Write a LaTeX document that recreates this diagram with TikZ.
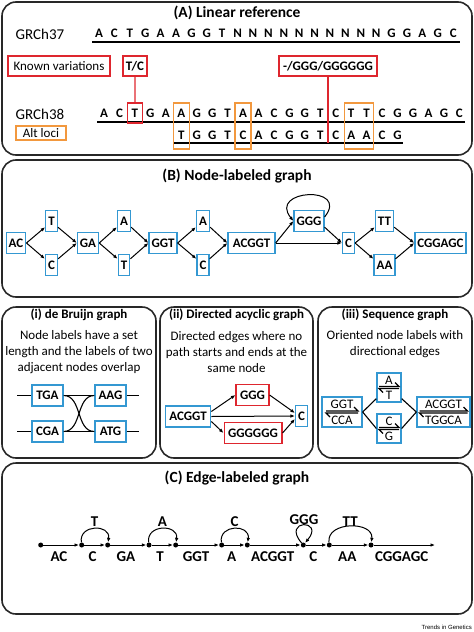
\documentclass[tikz,border=0pt]{standalone}
\usepackage{fontspec}
\setmainfont{Carlito}
\newfontfamily\creditfont{Liberation Sans}
\usetikzlibrary{arrows.meta}

\definecolor{nodeblue}{RGB}{52,152,210}
\definecolor{varred}{RGB}{222,38,46}
\definecolor{altorange}{RGB}{242,152,62}
\definecolor{framegray}{RGB}{40,40,40}

\newcommand{\titlesize}{\fontsize{15.5}{18}\selectfont\bfseries}
\newcommand{\subsize}{\fontsize{13}{16}\selectfont\bfseries}
\newcommand{\bodysize}{\fontsize{13}{16}\selectfont}
\newcommand{\edgesize}{\fontsize{15}{18}\selectfont\bfseries}

% two opposite half arrows through an oriented node
\newcommand{\harpoons}[2]{%
  \draw[harp] ([shift={(-#2,1)}]#1.center) -- ([shift={(#2,1)}]#1.center) -- ++(-4,4);
  \draw[harp] ([shift={(#2,-1)}]#1.center) -- ([shift={(-#2,-1)}]#1.center) -- ++(4,-4);
}

\begin{document}
\begin{tikzpicture}[x=1pt, y=1pt,
    panel/.style={draw=framegray, line width=1.6pt, rounded corners=14pt},
    seq/.style={inner sep=0pt, font=\subsize},
    bnode/.style={draw=nodeblue, line width=1.3pt, inner xsep=2.5pt, inner ysep=0pt, minimum height=21pt, font=\subsize},
    rnode/.style={bnode, draw=varred},
    varbox/.style={draw=varred, line width=1.3pt, inner sep=0pt, minimum height=20pt},
    altbox/.style={draw=altorange, line width=1.3pt, inner sep=0pt},
    obox/.style={draw=nodeblue, line width=1.3pt, inner sep=0pt},
    otext/.style={inner sep=0pt, font=\bodysize},
    arr/.style={-{Latex[length=4.5pt,width=3.6pt]}, line width=1pt},
    harp/.style={line width=1.1pt},
    dot/.style={circle, fill, inner sep=0pt, minimum size=5pt},
  ]
\useasboundingbox (0,0) rectangle (474,-632);

% Panel A: linear reference
\draw[panel] (2,-2) rectangle (472,-155);
\node[font=\titlesize] (titleA) at (237,-13) {(A) Linear reference};
\node[font=\fontsize{15}{18}\selectfont] (grch37) at (40,-34) {GRCh37};
\node[font=\fontsize{15}{18}\selectfont] (grch38) at (40,-114) {GRCh38};
\foreach \b [count=\i from 0] in {A,C,T,G,A,A,G,G,T,N,N,N,N,N,N,N,N,N,N,G,G,A,G,C}
  \node[seq] (a\i) at (99+15.4*\i,-33) {\b};
\foreach \b [count=\i from 0] in {A,C,T,G,A,A,G,G,T,A,A,C,G,G,T,C,T,T,C,G,G,A,G,C}
  \node[seq] (r\i) at (104+15.45*\i,-113) {\b};
\foreach \b [count=\i from 5] in {T,G,G,T,C,A,C,G,G,T,C,A,A,C,G}
  \node[seq] (q\i) at (104+15.45*\i,-135) {\b};
\draw[line width=1.1pt] (92,-42) -- (460,-42);
\draw[line width=1.1pt] (97,-122) -- (465,-122);
\draw[line width=1.1pt] (173,-143) -- (403,-143);

\node[varbox, minimum width=102pt, font=\bodysize] (known) at (59,-66) {Known variations};
\node[varbox, minimum width=24pt, font=\subsize] (tc) at (135,-66) {T/C};
\node[varbox, minimum width=98pt, font=\subsize] (gv) at (328,-66) {-/GGG/GGGGGG};
\node[varbox, minimum width=15pt] (tsnp) at (r2) {};
\coordinate (gvend) at (328,-143);
\draw[varred, line width=1.3pt] (tc) -- (tsnp);
\draw[varred, line width=1.3pt] (gv) -- (gvend);
\node[altbox, minimum width=16pt, minimum height=46pt] (alt1) at (181.25,-126) {};
\node[altbox, minimum width=16pt, minimum height=46pt] (alt2) at (243.05,-126) {};
\node[altbox, minimum width=29pt, minimum height=46pt] (alt3) at (358.9,-126) {};
\node[altbox, minimum width=50pt, minimum height=14pt, font=\bodysize] (altloci) at (41,-133) {Alt loci};

% Panel B: node-labeled graph
\draw[panel] (2,-160) rectangle (472,-297);
\node[font=\titlesize] (titleB) at (237,-176) {(B) Node-labeled graph};
\node[bnode] (nAC) at (16,-243) {AC};
\node[bnode] (nT1) at (51.5,-221) {T};
\node[bnode] (nC1) at (51.5,-265) {C};
\node[bnode] (nGA) at (88,-243) {GA};
\node[bnode] (nA2) at (124,-221) {A};
\node[bnode] (nT2) at (124,-265) {T};
\node[bnode] (nGGT) at (163,-243) {GGT};
\node[bnode] (nA3) at (203,-221) {A};
\node[bnode] (nC3) at (203,-265) {C};
\node[bnode, minimum width=47pt] (nACGGT) at (251.5,-243) {ACGGT};
\node[bnode, minimum width=28pt] (nGGG) at (309,-221) {GGG};
\node[bnode] (nC4) at (348.5,-243) {C};
\node[bnode] (nTT) at (384.5,-221) {TT};
\node[bnode] (nAA) at (384.5,-265) {AA};
\node[bnode] (nCGGAGC) at (440.5,-243) {CGGAGC};
\foreach \s/\u/\l/\e in {nAC/nT1/nC1/nGA, nGA/nA2/nT2/nGGT, nGGT/nA3/nC3/nACGGT, nC4/nTT/nAA/nCGGAGC} {
  \draw[arr] (\s.east) -- ([yshift=5pt]\u.south west);
  \draw[arr] (\s.east) -- ([yshift=-5pt]\l.north west);
  \draw[arr] ([yshift=5pt]\u.south east) -- (\e.west);
  \draw[arr] ([yshift=-5pt]\l.north east) -- (\e.west);
}
\draw[arr] (nACGGT.east) -- (nGGG.west);
\draw[arr] (nACGGT.east) -- (nC4.west);
\draw[arr] ([yshift=5pt]nGGG.south east) -- (nC4.west);
\draw[arr] ([yshift=4pt]nGGG.east) .. controls +(26,32) and +(-26,32) .. (nGGG.west);

% Panel (i): de Bruijn graph
\draw[panel] (2,-307) rectangle (156,-458);
\node[font=\subsize] (titlei) at (79,-315) {(i) de Bruijn graph};
\node[font=\bodysize, align=center] (texti) at (79,-352) {Node labels have a set\\length and the labels of two\\adjacent nodes overlap};
\node[bnode, minimum width=31pt] (kTGA) at (47.5,-395.5) {TGA};
\node[bnode, minimum width=31pt] (kAAG) at (110.5,-395.5) {AAG};
\node[bnode, minimum width=31pt] (kCGA) at (47.5,-431.5) {CGA};
\node[bnode, minimum width=31pt] (kATG) at (110.5,-431.5) {ATG};
\coordinate (kin1) at (17,-395.5);
\coordinate (kout1) at (139,-395.5);
\coordinate (kin2) at (17,-431.5);
\coordinate (kout2) at (139,-431.5);
\draw[line width=1.1pt] (kin1) -- (kTGA) (kAAG) -- (kout1);
\draw[line width=1.1pt] (kin2) -- (kCGA) (kATG) -- (kout2);
\draw[line width=1.1pt] (kTGA.east) -- (kAAG.west);
\draw[line width=1.1pt] (kCGA.east) -- (kATG.west);
\draw[line width=1.1pt] (kTGA.east) to[out=0, in=180] (kATG.west);
\draw[line width=1.1pt] (kCGA.east) to[out=0, in=180] (kAAG.west);

% Panel (ii): directed acyclic graph
\draw[panel] (160,-307) rectangle (313,-458);
\node[font=\subsize] (titleii) at (236.5,-315) {(ii) Directed acyclic graph};
\node[font=\bodysize, align=center] (textii) at (236.5,-352) {Directed edges where no\\path starts and ends at the\\same node};
\node[bnode, inner xsep=4pt] (dACGGT) at (188,-416.5) {ACGGT};
\node[rnode, inner xsep=4pt] (dGGG) at (252.5,-395) {GGG};
\node[rnode, inner xsep=4pt] (dG6) at (253,-433) {GGGGGG};
\node[bnode] (dC) at (301.5,-416) {C};
\draw[arr] ([yshift=5pt]dACGGT.east) -- (dGGG.west);
\draw[arr] (dACGGT.east) -- (dC.west);
\draw[arr] ([yshift=-5pt]dACGGT.east) -- (dG6.west);
\draw[arr] (dGGG.east) -- ([yshift=3pt]dC.west);
\draw[arr] (dG6.east) -- ([yshift=-3pt]dC.west);

% Panel (iii): sequence graph
\draw[panel] (318,-307) rectangle (472,-458);
\node[font=\subsize] (titleiii) at (395,-315) {(iii) Sequence graph};
\node[font=\bodysize, align=center] (textiii) at (395,-344) {Oriented node labels with\\directional edges};
\node[obox, minimum width=40pt, minimum height=30pt] (sGGT) at (342,-412) {};
\node[obox, minimum width=24pt, minimum height=29pt] (sAT) at (389,-387.5) {};
\node[obox, minimum width=24pt, minimum height=29pt] (sCG) at (389,-428.5) {};
\node[obox, minimum width=53pt, minimum height=30pt] (sACGGT) at (443.5,-412) {};
\node[otext] (tGGT) at ([yshift=8pt]sGGT.center) {GGT};
\node[otext] (tCCA) at ([yshift=-8pt]sGGT.center) {CCA};
\node[otext] (tA) at ([yshift=7.5pt]sAT.center) {A};
\node[otext] (tT) at ([yshift=-7.5pt]sAT.center) {T};
\node[otext] (tC) at ([yshift=7.5pt]sCG.center) {C};
\node[otext] (tG) at ([yshift=-7.5pt]sCG.center) {G};
\node[otext] (tACGGT) at ([yshift=8pt]sACGGT.center) {ACGGT};
\node[otext] (tTGGCA) at ([yshift=-8pt]sACGGT.center) {TGGCA};
\harpoons{sGGT}{16}
\harpoons{sAT}{10}
\harpoons{sCG}{10}
\harpoons{sACGGT}{24}
\draw[line width=1.1pt] (sGGT.east) -- ([yshift=4pt]sAT.south west);
\draw[line width=1.1pt] (sGGT.east) -- (sCG.west);
\draw[line width=1.1pt] ([yshift=4pt]sAT.south east) -- (sACGGT.west);
\draw[line width=1.1pt] (sCG.east) -- (sACGGT.west);

% Panel C: edge-labeled graph
\draw[panel] (2,-463) rectangle (472,-614);
\node[font=\titlesize] (titleC) at (237,-478) {(C) Edge-labeled graph};
\foreach \x [count=\i from 0] in {40.7,81.7,107.7,149,175.7,221.7,247.3,303.3,329.3,371}
  \node[dot] (d\i) at (\x,-545) {};
\coordinate (dend) at (435,-545);
\foreach \i [evaluate=\i as \j using int(\i+1)] in {0,...,8}
  \draw[arr] (d\i) -- (d\j);
\draw[arr] (d9) -- (dend);
\draw[arr] (d1) .. controls +(-3,21) and +(3,21) .. (d2);
\draw[arr] (d3) .. controls +(-3,21) and +(3,21) .. (d4);
\draw[arr] (d5) .. controls +(-3,21) and +(3,21) .. (d6);
\draw[arr] (d7) .. controls +(-22,26) and +(22,26) .. (d7);
\draw[arr] (d8) .. controls +(-3,24) and +(3,24) .. (d9);
\node[font=\edgesize] (eT) at (94.7,-522) {T};
\node[font=\edgesize] (eA) at (162.3,-522) {A};
\node[font=\edgesize] (eC) at (234.5,-522) {C};
\node[font=\edgesize] (eGGG) at (304,-520) {GGG};
\node[font=\edgesize] (eTT) at (350.2,-522) {TT};
\foreach \x/\t [count=\i] in {59/AC, 92.7/C, 126/GA, 160/T, 196/GGT, 231.7/A, 272.7/ACGGT, 313.3/C, 347.3/AA, 401.7/CGGAGC}
  \node[font=\edgesize] (v\i) at (\x,-557) {\t};

\node[font=\creditfont\fontsize{6}{7}\selectfont, anchor=east, inner sep=0pt] (credit) at (472,-627) {Trends in Genetics};
\end{tikzpicture}
\end{document}
